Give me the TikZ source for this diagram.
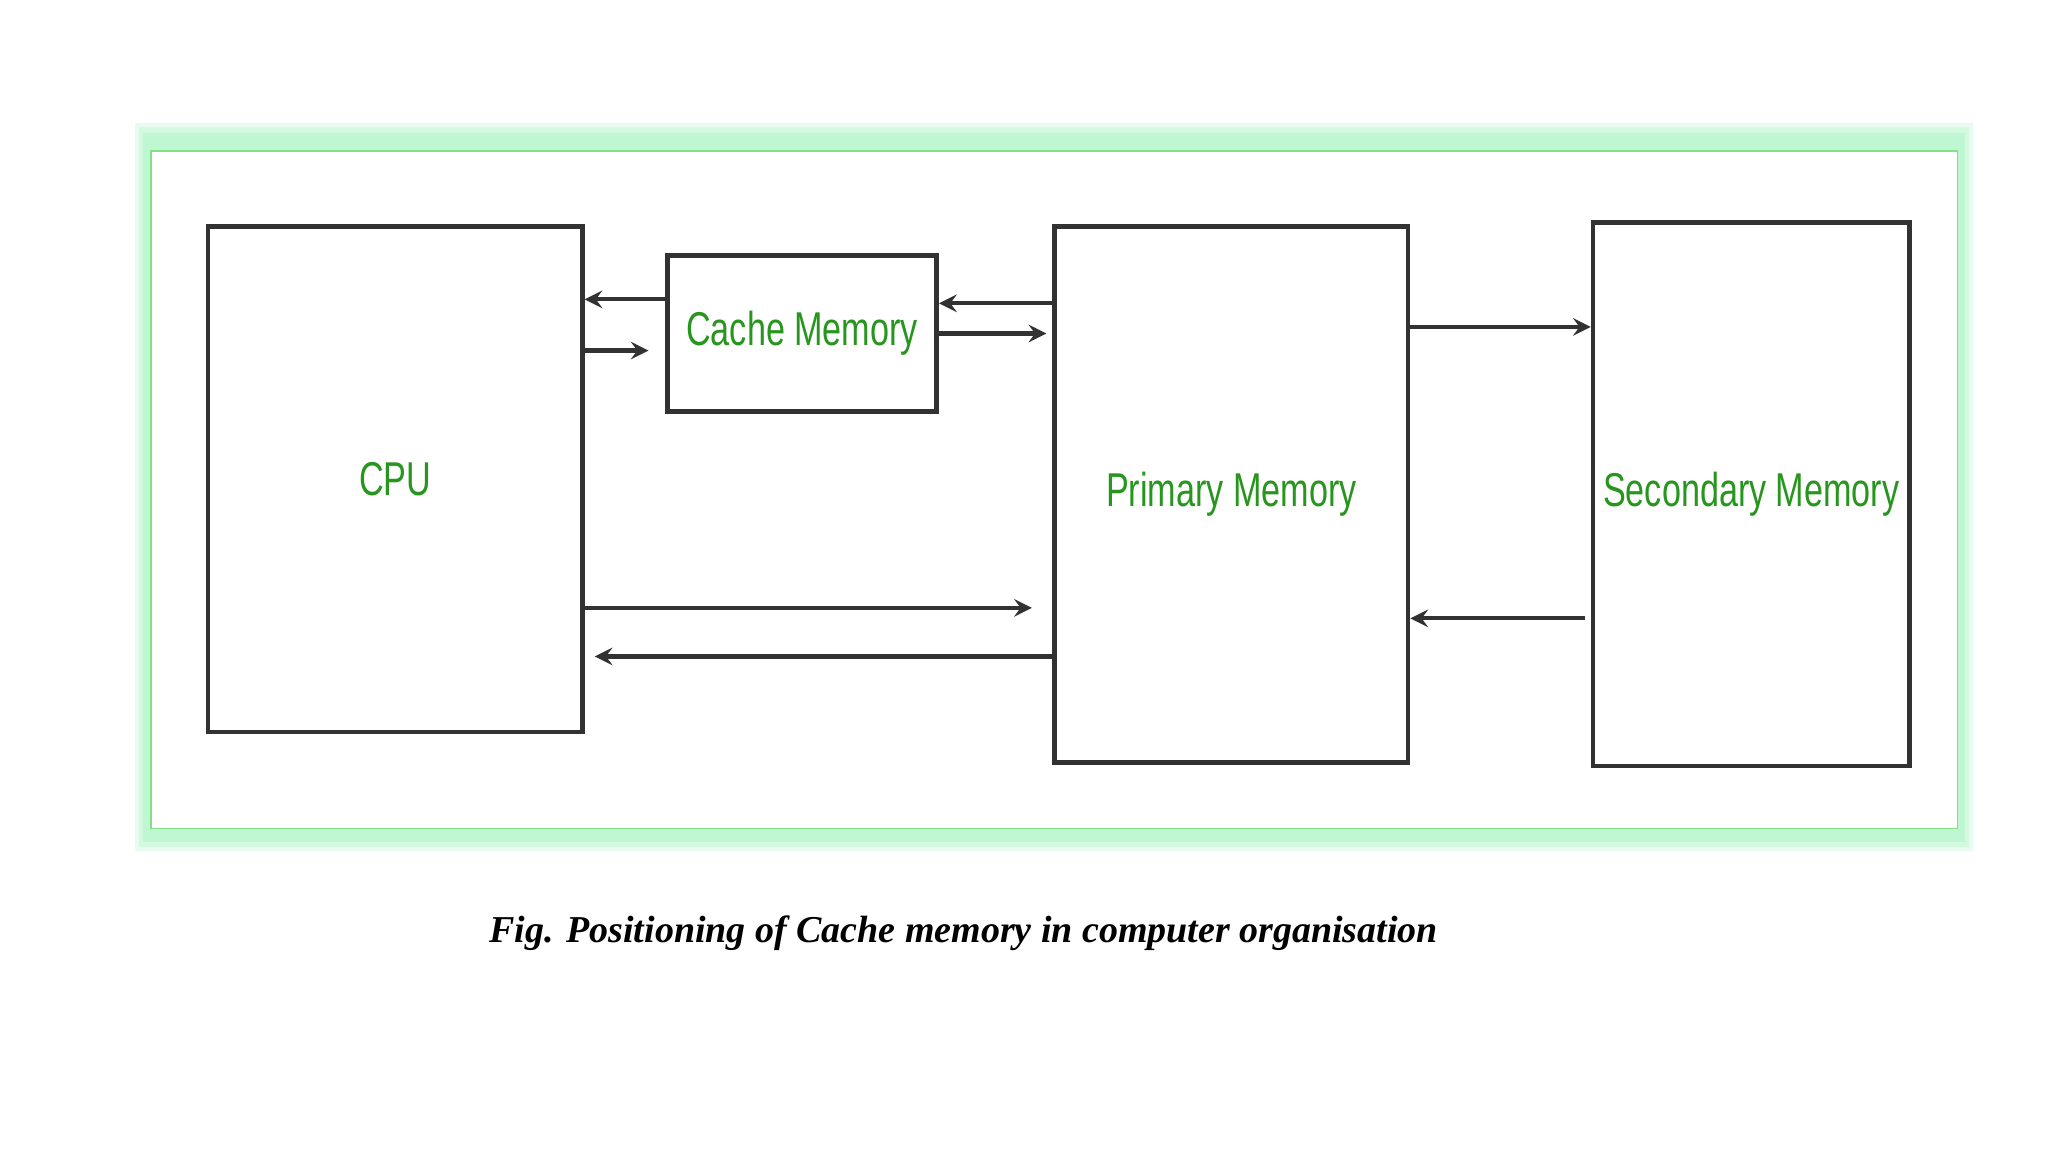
\documentclass[tikz,border=0pt]{standalone}
\usepackage{fontspec}
\setmainfont{Liberation Serif}
\newfontfamily\boxfont{Liberation Sans}[FakeStretch=0.72]
\definecolor{lblgreen}{RGB}{40,150,30}
\definecolor{glowgreen}{RGB}{175,245,200}
\definecolor{framegreen}{RGB}{130,225,130}
\definecolor{linegray}{RGB}{50,50,50}
\begin{document}
\begin{tikzpicture}[x=0.013128cm, y=-0.013128cm,
  unit/.style={draw=linegray, line width=1.3pt, fill=white, font=\boxfont\fontsize{13.5}{16}\selectfont, text=lblgreen, inner sep=0pt},
  arr/.style={-stealth, draw=linegray, line width=1.2pt}]
\useasboundingbox (0,0) rectangle (1560,877.5);
% glow frame
\fill[glowgreen!30] (103,94) rectangle (1503,648);
\fill[glowgreen!55] (106,97) rectangle (1500,645);
\fill[glowgreen!80] (109,101) rectangle (1497,641);
\fill[white, draw=framegreen, line width=0.5pt] (115,115) rectangle (1491,631);

\node[unit, minimum width=285*0.13128mm, minimum height=385*0.13128mm] (cpu) at (301,365) {CPU};
\node[unit, minimum width=205*0.13128mm, minimum height=119*0.13128mm] (cache) at (611,254) {Cache Memory};
\node[unit, minimum width=269*0.13128mm, minimum height=408*0.13128mm] (primary) at (938,376.5) {Primary Memory};
\node[unit, minimum width=241*0.13128mm, minimum height=414*0.13128mm] (secondary) at (1334,376.5) {Secondary Memory};

\draw[arr] (cache.west |- 0,228) -- (cpu.east |- 0,228);
\draw[arr] (cpu.east |- 0,267) -- (494,267);
\draw[arr] (primary.west |- 0,231) -- (cache.east |- 0,231);
\draw[arr] (cache.east |- 0,254) -- (797,254);
\draw[arr] (cpu.east |- 0,463) -- (786,463);
\draw[arr] (primary.west |- 0,500) -- (453,500);
\draw[arr] (primary.east |- 0,249) -- (secondary.west |- 0,249);
\draw[arr] (1207,471) -- (primary.east |- 0,471);

\node[font=\bfseries\itshape\fontsize{10.8}{13}\selectfont] (caption) at (734,711) {Fig. Positioning of Cache memory in computer organisation};
\end{tikzpicture}
\end{document}
